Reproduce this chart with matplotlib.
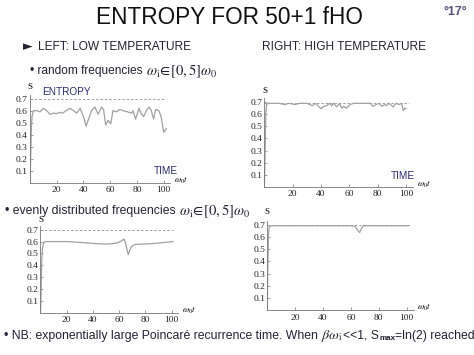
import matplotlib.pyplot as plt
import numpy as np

plt.rcParams['mathtext.fontset'] = 'stix'

# panel data: time (w0 t) and entropy S
t_rand_low = [0, 0.5, 1, 1.5, 2.5, 5, 7.5, 10, 12.5, 15, 17.5, 20, 22, 24.5, 27, 30,
              32.5, 35, 37.5, 40, 42, 43.5, 46, 48.5, 51, 53.5, 55, 56.6, 58.4, 60.4,
              62, 64.6, 67, 69.6, 73, 76, 77, 79, 81.5, 83, 85, 87, 89, 90.7, 92.4,
              94, 96.4, 98, 100, 102]
s_rand_low = [0, 0.2, 0.45, 0.55, 0.6, 0.6, 0.59, 0.62, 0.6, 0.57, 0.58, 0.575, 0.585,
              0.58, 0.6, 0.62, 0.6, 0.58, 0.62, 0.55, 0.47, 0.52, 0.6, 0.63, 0.57, 0.63,
              0.61, 0.48, 0.52, 0.49, 0.6, 0.59, 0.61, 0.6, 0.59, 0.58, 0.6, 0.53, 0.62,
              0.58, 0.55, 0.6, 0.63, 0.6, 0.53, 0.61, 0.6, 0.55, 0.42, 0.45]

t_rand_high = [0, 0.5, 1, 1.5, 3, 10, 14.6, 17, 21.6, 25, 30, 34, 36, 40, 42, 44, 46,
               47.5, 49, 51, 53, 54.6, 56, 58, 60.5, 63, 70, 75, 76.5, 79, 81, 83, 85,
               86, 88, 91, 93, 95, 97, 98, 99.3, 100]
s_rand_high = [0, 0.3, 0.6, 0.68, 0.69, 0.69, 0.68, 0.69, 0.68, 0.69, 0.69, 0.67, 0.69,
               0.645, 0.665, 0.67, 0.69, 0.67, 0.69, 0.66, 0.69, 0.65, 0.665, 0.65, 0.68,
               0.69, 0.69, 0.69, 0.665, 0.68, 0.69, 0.665, 0.68, 0.67, 0.69, 0.66, 0.69,
               0.68, 0.69, 0.63, 0.65, 0.645]

t_even_low = [0, 0.5, 1, 1.5, 2.5, 4, 10, 20, 30, 40, 46.5, 52, 56.6, 59, 61.6, 63, 63.8,
              65, 66.2, 67, 68, 69.5, 71.7, 76, 84, 92, 101]
s_even_low = [0, 0.2, 0.45, 0.55, 0.59, 0.6, 0.6, 0.6, 0.593, 0.585, 0.58, 0.58, 0.585,
              0.59, 0.605, 0.615, 0.62, 0.58, 0.52, 0.49, 0.53, 0.56, 0.575, 0.578,
              0.582, 0.59, 0.6]

t_even_high = [0, 0.5, 1, 1.5, 3, 30, 60, 63, 64.5, 66.3, 68, 69, 80, 101]
s_even_high = [0, 0.35, 0.62, 0.68, 0.69, 0.69, 0.69, 0.685, 0.66, 0.635, 0.675, 0.69,
               0.69, 0.69]

xticks = [20, 40, 60, 80, 100]
yticks = [0.1, 0.2, 0.3, 0.4, 0.5, 0.6, 0.7]
smax = np.log(2)

navy = '#2a2a6a'
textc = '#222233'
W, H = 474, 355

fig = plt.figure(figsize=(4.74, 3.55), dpi=100)
renderer = fig.canvas.get_renderer()


def panel(rect, t, s, dash_end, s_off):
    ax = fig.add_axes(rect)
    ax.plot(t, s, color='#a0a0a0', lw=0.9)
    ax.plot([0, dash_end], [smax, smax], color='#a0a0a0', lw=0.7, ls=(0, (2.5, 2)))
    ax.set_xlim(0, 105)
    ax.set_ylim(0, 0.73)
    ax.set_xticks(xticks)
    ax.set_yticks(yticks)
    ax.set_yticklabels(['%.1f' % v for v in yticks])
    for sp in ['top', 'right']:
        ax.spines[sp].set_visible(False)
    for sp in ['left', 'bottom']:
        ax.spines[sp].set_color('#777777')
        ax.spines[sp].set_linewidth(0.6)
    ax.tick_params(direction='in', length=2, width=0.5, color='#777777',
                   labelsize=6.8, labelcolor='#222222')
    ax.tick_params(axis='x', pad=2.5)
    ax.tick_params(axis='y', pad=1.5)
    for lb in ax.get_xticklabels() + ax.get_yticklabels():
        lb.set_family('Liberation Serif')
    ax.patch.set_alpha(0)
    ax.text(0, 1 + s_off, 'S', transform=ax.transAxes, ha='center', va='bottom',
            fontsize=6.5, family='Liberation Serif')
    ax.text(1.025, 0.03, r'$\omega_0 t$', transform=ax.transAxes, ha='left',
            va='center', fontsize=6.5)
    return ax


ax1 = panel([0.0633, 0.4854, 0.2962, 0.2468], t_rand_low, s_rand_low, 102, 0.05)
ax2 = panel([0.5578, 0.4738, 0.3137, 0.2488], t_rand_high, s_rand_high, 102, 0.04)
ax3 = panel([0.0854, 0.1183, 0.2907, 0.2448], t_even_low, s_even_low, 101, 0.02)
ax4 = panel([0.5635, 0.1254, 0.3093, 0.2524], t_even_high, s_even_high, 102, 0.06)


def run(x, y, pieces):
    # place text pieces one after another on a line, x and y in pixels
    for txt, kw in pieces:
        dy = kw.pop('dy', 0)
        t = fig.text(x / W, 1 - (y + dy) / H, txt, ha='left', va='center', **kw)
        x += t.get_window_extent(renderer).width


sans = dict(family='Liberation Sans', color=textc, fontsize=8.6)
math = dict(color=textc, fontsize=10.5)

# slide text
fig.text(229 / W, 1 - 18 / H, 'ENTROPY FOR 50+1 fHO', ha='center', va='center',
         fontsize=16.3, family='Liberation Sans', color='#111111')
fig.text(455 / W, 1 - 12 / H, '°17°', ha='center', va='center', fontsize=9,
         family='Liberation Sans', color='#55557a', weight='bold')
fig.text(23 / W, 1 - 47 / H, '►', ha='left', va='center', fontsize=9,
         family='DejaVu Sans', color=textc)
fig.text(38 / W, 1 - 47 / H, 'LEFT: LOW TEMPERATURE', ha='left', va='center', **sans)
fig.text(262 / W, 1 - 47 / H, 'RIGHT: HIGH TEMPERATURE', ha='left', va='center', **sans)

run(30, 71, [('• random frequencies ', dict(sans)),
             (r'$\omega_{\mathrm{i}}\!\in\![0,5]\omega_0$', dict(math))])
run(5, 211, [('• evenly distributed frequencies ', dict(sans, fontsize=8.8)),
             (r'$\omega_{\mathrm{i}}\!\in\![0,5]\omega_0$', dict(math))])
nb = dict(sans, fontsize=8.8)
run(4, 336, [('• NB: exponentially large Poincaré recurrence time. When ', nb),
             (r'$\beta\omega_{\mathrm{i}}$', dict(math, fontsize=10.2)),
             ('<<1, S', dict(nb)),
             ('max', dict(nb, fontsize=5.9, weight='bold', dy=2)),
             ('=ln(2) reached', dict(nb))])

fig.text(66 / W, 1 - 92 / H, 'ENTROPY', ha='center', va='center', fontsize=7.2,
         family='Liberation Sans', color=navy)
fig.text(166 / W, 1 - 171 / H, 'TIME', ha='center', va='center', fontsize=7.2,
         family='Liberation Sans', color=navy)
fig.text(403 / W, 1 - 176 / H, 'TIME', ha='center', va='center', fontsize=7.2,
         family='Liberation Sans', color=navy)

fig.savefig('out.png', dpi=100)
